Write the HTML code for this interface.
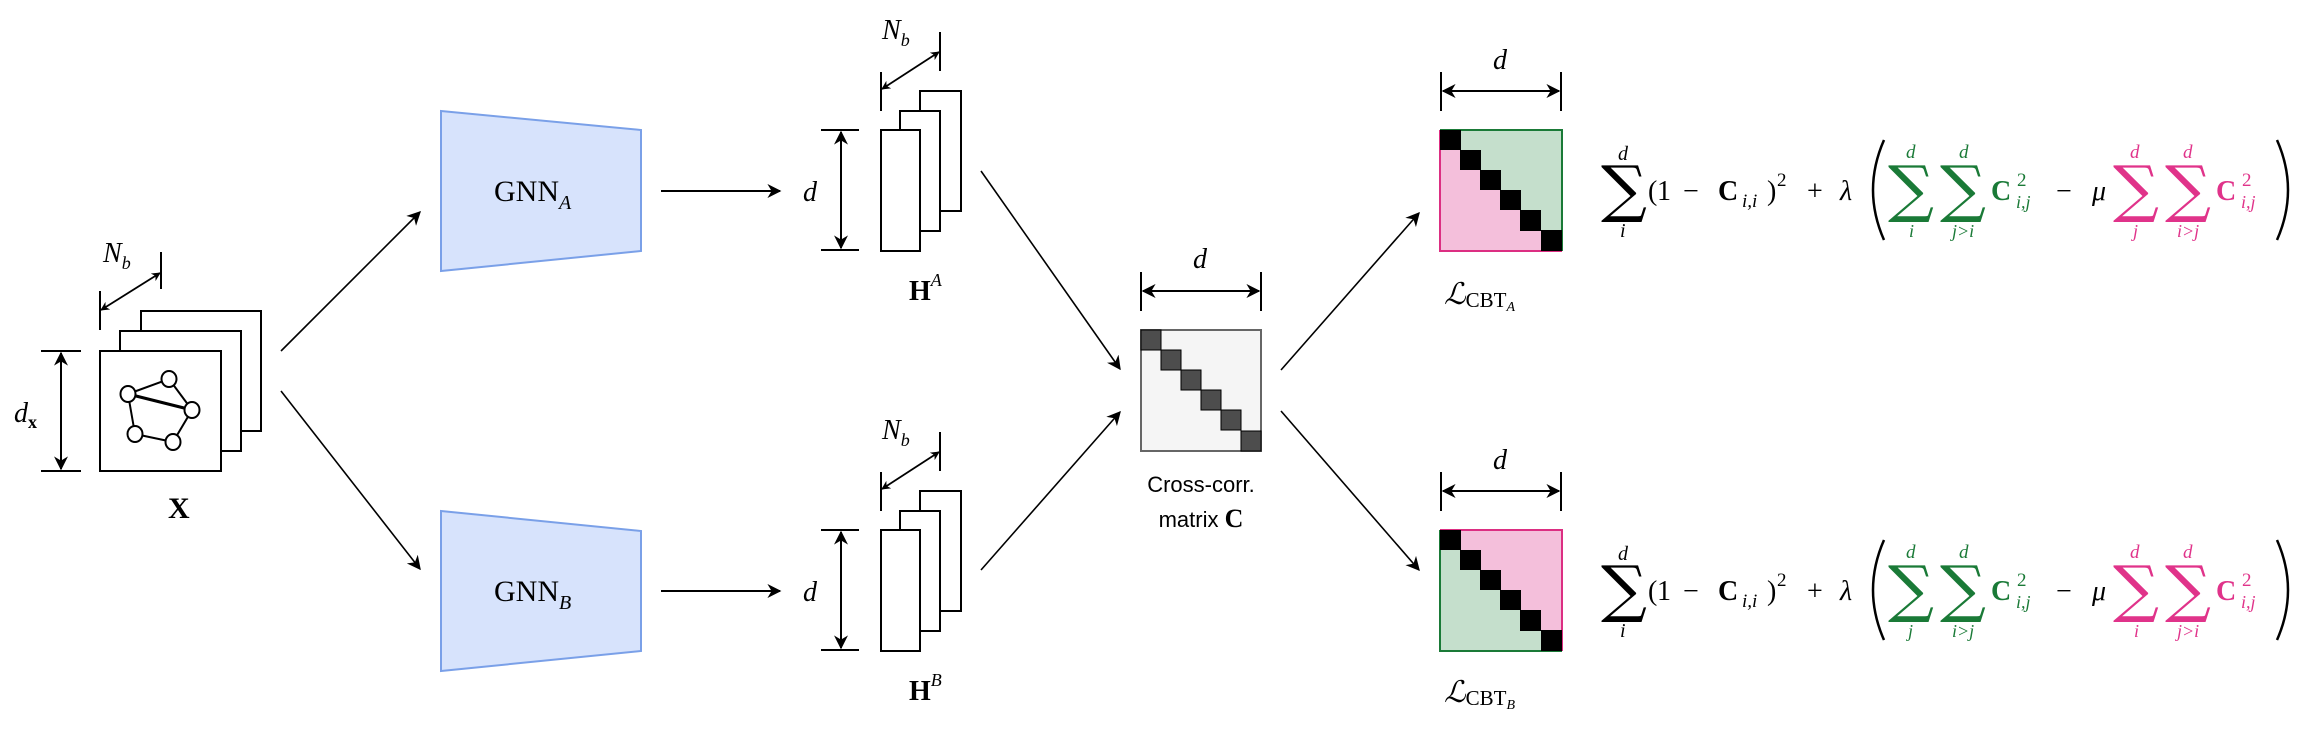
<!DOCTYPE html>
<html><head><meta charset="utf-8"><style>
html,body{margin:0;padding:0;background:#fff;}
svg{display:block;}
.m{font-family:"Liberation Serif","DejaVu Serif",serif;}
.i{font-style:italic;}
</style></head><body>
<svg width="2302" height="738" viewBox="0 0 2302 738" xmlns="http://www.w3.org/2000/svg">
<defs>
<marker id="a" viewBox="0 0 10 10" refX="9" refY="5" markerWidth="9" markerHeight="9" markerUnits="userSpaceOnUse" orient="auto-start-reverse">
<path d="M0,0 L10,5 L0,10 L3,5 z" fill="#000"/></marker>
<marker id="b" viewBox="0 0 10 10" refX="9" refY="5" markerWidth="14" markerHeight="14" markerUnits="userSpaceOnUse" orient="auto-start-reverse">
<path d="M0,0 L10,5 L0,10 L3,5 z" fill="#000"/></marker>
<g id="form" class="m" font-size="28">
<text x="1601" y="210" font-size="62" font-family="DejaVu Serif, serif" textLength="46" lengthAdjust="spacingAndGlyphs">∑</text>
<text x="1618" y="160" class="i" font-size="20">d</text>
<text x="1620" y="237" class="i" font-size="20">i</text>
<text x="1648" y="200">(</text>
<text x="1657" y="200">1</text>
<text x="1683" y="200">−</text>
<text x="1718" y="200" font-weight="bold">C</text>
<text x="1742" y="207" class="i" font-size="19">i,i</text>
<text x="1767" y="200">)</text>
<text x="1777" y="186" font-size="19">2</text>
<text x="1807" y="200">+</text>
<text x="1840" y="200" class="i">λ</text>
<path d="M1884,140 Q1862,190 1884,240" stroke="#000" stroke-width="2.5" fill="none"/>
<path d="M2277,140 Q2299,190 2277,240" stroke="#000" stroke-width="2.5" fill="none"/>
<g fill="#1a7a37">
<text x="1888" y="210" font-size="62" font-family="DejaVu Serif, serif" textLength="46" lengthAdjust="spacingAndGlyphs">∑</text>
<text x="1940" y="210" font-size="62" font-family="DejaVu Serif, serif" textLength="46" lengthAdjust="spacingAndGlyphs">∑</text>
<text x="1991" y="200" font-weight="bold">C</text>
<text x="2017" y="186" font-size="19">2</text>
<text x="2016" y="208" class="i" font-size="18">i,j</text>
<text x="1906" y="158" class="i" font-size="19">d</text>
<text x="1959" y="158" class="i" font-size="19">d</text>
</g>
<text x="2056" y="200">−</text>
<text x="2092" y="200" class="i">μ</text>
<g fill="#e0338a">
<text x="2113" y="210" font-size="62" font-family="DejaVu Serif, serif" textLength="46" lengthAdjust="spacingAndGlyphs">∑</text>
<text x="2165" y="210" font-size="62" font-family="DejaVu Serif, serif" textLength="46" lengthAdjust="spacingAndGlyphs">∑</text>
<text x="2216" y="200" font-weight="bold">C</text>
<text x="2242" y="186" font-size="19">2</text>
<text x="2241" y="208" class="i" font-size="18">i,j</text>
<text x="2130" y="158" class="i" font-size="19">d</text>
<text x="2183" y="158" class="i" font-size="19">d</text>
</g>
</g>
</defs>
<g stroke="#000" stroke-width="2" fill="none">
<rect x="141" y="311" width="120" height="120" fill="#fff"/>
<rect x="120" y="331" width="121" height="120" fill="#fff"/>
<rect x="100" y="351" width="121" height="120" fill="#fff"/>
<line x1="128" y1="394" x2="169" y2="379"/><line x1="128" y1="394" x2="192" y2="410" stroke-width="3"/>
<line x1="169" y1="379" x2="192" y2="410"/><line x1="128" y1="394" x2="135" y2="434"/>
<line x1="135" y1="434" x2="173" y2="442"/><line x1="173" y1="442" x2="192" y2="410"/>
<g fill="#fff"><ellipse cx="169" cy="379" rx="7.5" ry="8"/><ellipse cx="128" cy="394" rx="7.5" ry="8"/><ellipse cx="192" cy="410" rx="7.5" ry="8"/><ellipse cx="135" cy="434" rx="7.5" ry="8"/><ellipse cx="173" cy="442" rx="7.5" ry="8"/></g>
<line x1="41" y1="351" x2="81" y2="351"/><line x1="41" y1="471" x2="81" y2="471"/>
<line x1="61" y1="353" x2="61" y2="469" marker-start="url(#b)" marker-end="url(#b)"/>
<line x1="100" y1="291" x2="100" y2="330"/><line x1="161" y1="252" x2="161" y2="289"/>
<line x1="101" y1="310" x2="160" y2="273" marker-start="url(#a)" marker-end="url(#a)" stroke-width="1.8"/>
<line x1="281" y1="351" x2="420" y2="212" marker-end="url(#b)" stroke-width="1.6"/>
<line x1="281" y1="391" x2="420" y2="569" marker-end="url(#b)" stroke-width="1.6"/>
<polygon points="441,111 641,130 641,251 441,271" fill="#d7e3fc" stroke="#7aa0e8"/>
<polygon points="441,511 641,531 641,651 441,671" fill="#d7e3fc" stroke="#7aa0e8"/>
<line x1="661" y1="191" x2="780" y2="191" marker-end="url(#b)"/>
<line x1="661" y1="591" x2="780" y2="591" marker-end="url(#b)"/>
<g id="h">
<rect x="920" y="91" width="41" height="120" fill="#fff"/>
<rect x="900" y="111" width="40" height="120" fill="#fff"/>
<rect x="881" y="130" width="39" height="121" fill="#fff"/>
<line x1="821" y1="130" x2="859" y2="130"/><line x1="821" y1="250" x2="859" y2="250"/>
<line x1="841" y1="132" x2="841" y2="248" marker-start="url(#b)" marker-end="url(#b)"/>
<line x1="881" y1="72" x2="881" y2="111"/><line x1="940" y1="32" x2="940" y2="71"/>
<line x1="882" y1="89" x2="939" y2="52" marker-start="url(#a)" marker-end="url(#a)" stroke-width="1.8"/>
</g>
<use href="#h" y="400"/>
<line x1="981" y1="171" x2="1120" y2="369" marker-end="url(#b)" stroke-width="1.6"/>
<line x1="981" y1="570" x2="1120" y2="412" marker-end="url(#b)" stroke-width="1.6"/>
<rect x="1141" y="330" width="120" height="121" fill="#f5f5f5" stroke="#666"/>
<g fill="#4d4d4d" stroke="#000" stroke-width="1">
<rect x="1141" y="330" width="20" height="20"/><rect x="1161" y="350" width="20" height="20"/><rect x="1181" y="370" width="20" height="20"/><rect x="1201" y="390" width="20" height="20"/><rect x="1221" y="410" width="20" height="20"/><rect x="1241" y="431" width="20" height="20"/></g>
<line x1="1141" y1="272" x2="1141" y2="311"/><line x1="1261" y1="272" x2="1261" y2="311"/>
<line x1="1143" y1="291" x2="1259" y2="291" marker-start="url(#b)" marker-end="url(#b)"/>
<line x1="1281" y1="370" x2="1419" y2="213" marker-end="url(#b)" stroke-width="1.6"/>
<line x1="1281" y1="411" x2="1419" y2="570" marker-end="url(#b)" stroke-width="1.6"/>
<polygon points="1440,130 1562,130 1562,251" fill="#c5dfcc" stroke="none"/>
<polygon points="1440,130 1562,251 1440,251" fill="#f4bfdb" stroke="none"/>
<path d="M1440,130 H1562 V251" stroke="#1a7a37"/>
<path d="M1440,130 V251 H1562" stroke="#dc2e82"/>
<g fill="#000" stroke="none"><rect x="1440" y="130" width="21" height="20"/><rect x="1460" y="150" width="21" height="20"/><rect x="1480" y="170" width="21" height="20"/><rect x="1500" y="190" width="21" height="20"/><rect x="1520" y="210" width="21" height="21"/><rect x="1541" y="230" width="21" height="21"/></g>
<line x1="1441" y1="72" x2="1441" y2="111"/><line x1="1561" y1="72" x2="1561" y2="111"/>
<line x1="1443" y1="91" x2="1559" y2="91" marker-start="url(#b)" marker-end="url(#b)"/>
<polygon points="1440,530 1562,530 1562,651" fill="#f4bfdb" stroke="none"/>
<polygon points="1440,530 1562,651 1440,651" fill="#c5dfcc" stroke="none"/>
<path d="M1440,530 H1562 V651" stroke="#dc2e82"/>
<path d="M1440,530 V651 H1562" stroke="#1a7a37"/>
<g fill="#000" stroke="none"><rect x="1440" y="530" width="21" height="20"/><rect x="1460" y="550" width="21" height="20"/><rect x="1480" y="570" width="21" height="20"/><rect x="1500" y="590" width="21" height="20"/><rect x="1520" y="610" width="21" height="21"/><rect x="1541" y="630" width="21" height="21"/></g>
<line x1="1441" y1="472" x2="1441" y2="511"/><line x1="1561" y1="472" x2="1561" y2="511"/>
<line x1="1443" y1="491" x2="1559" y2="491" marker-start="url(#b)" marker-end="url(#b)"/>
</g>
<g class="m" font-size="28" fill="#000">
<text x="14" y="422" class="i">d<tspan font-size="18" font-weight="bold" font-style="normal" dy="6">x</tspan></text>
<text x="103" y="262" class="i">N<tspan font-size="18" dy="7">b</tspan></text>
<text x="168" y="518" font-weight="bold" font-size="30">X</text>
<text x="494" y="201" font-size="30">GNN<tspan class="i" font-size="20" dy="8">A</tspan></text>
<text x="494" y="601" font-size="30">GNN<tspan class="i" font-size="20" dy="8">B</tspan></text>
<text x="803" y="201" class="i">d</text>
<text x="803" y="601" class="i">d</text>
<text x="882" y="39" class="i">N<tspan font-size="18" dy="7">b</tspan></text>
<text x="882" y="439" class="i">N<tspan font-size="18" dy="7">b</tspan></text>
<text x="909" y="300" font-weight="bold">H<tspan class="i" font-weight="normal" font-size="18" dy="-14">A</tspan></text>
<text x="909" y="700" font-weight="bold">H<tspan class="i" font-weight="normal" font-size="18" dy="-14">B</tspan></text>
<text x="1193" y="268" class="i">d</text>
<text x="1493" y="69" class="i">d</text>
<text x="1493" y="469" class="i">d</text>
<text x="1444" y="304" class="i" font-size="30">ℒ<tspan font-style="normal" font-size="21" dy="3">CBT</tspan><tspan font-size="14" dy="4">A</tspan></text>
<text x="1444" y="702" class="i" font-size="30">ℒ<tspan font-style="normal" font-size="21" dy="3">CBT</tspan><tspan font-size="14" dy="4">B</tspan></text>
</g>
<g font-family="Liberation Sans, sans-serif" font-size="22" text-anchor="middle">
<text x="1201" y="492">Cross-corr.</text>
<text x="1201" y="527">matrix <tspan font-family="Liberation Serif, serif" font-weight="bold" font-size="26">C</tspan></text>
</g>
<use href="#form"/>
<use href="#form" y="400"/>
<g class="m i" font-size="18">
<g fill="#1a7a37"><text x="1909" y="237">i</text><text x="1952" y="237">j&gt;i</text>
<text x="1908" y="637">j</text><text x="1952" y="637">i&gt;j</text></g>
<g fill="#e0338a"><text x="2133" y="237">j</text><text x="2177" y="237">i&gt;j</text>
<text x="2134" y="637">i</text><text x="2177" y="637">j&gt;i</text></g>
</g>
</svg>
</body></html>
